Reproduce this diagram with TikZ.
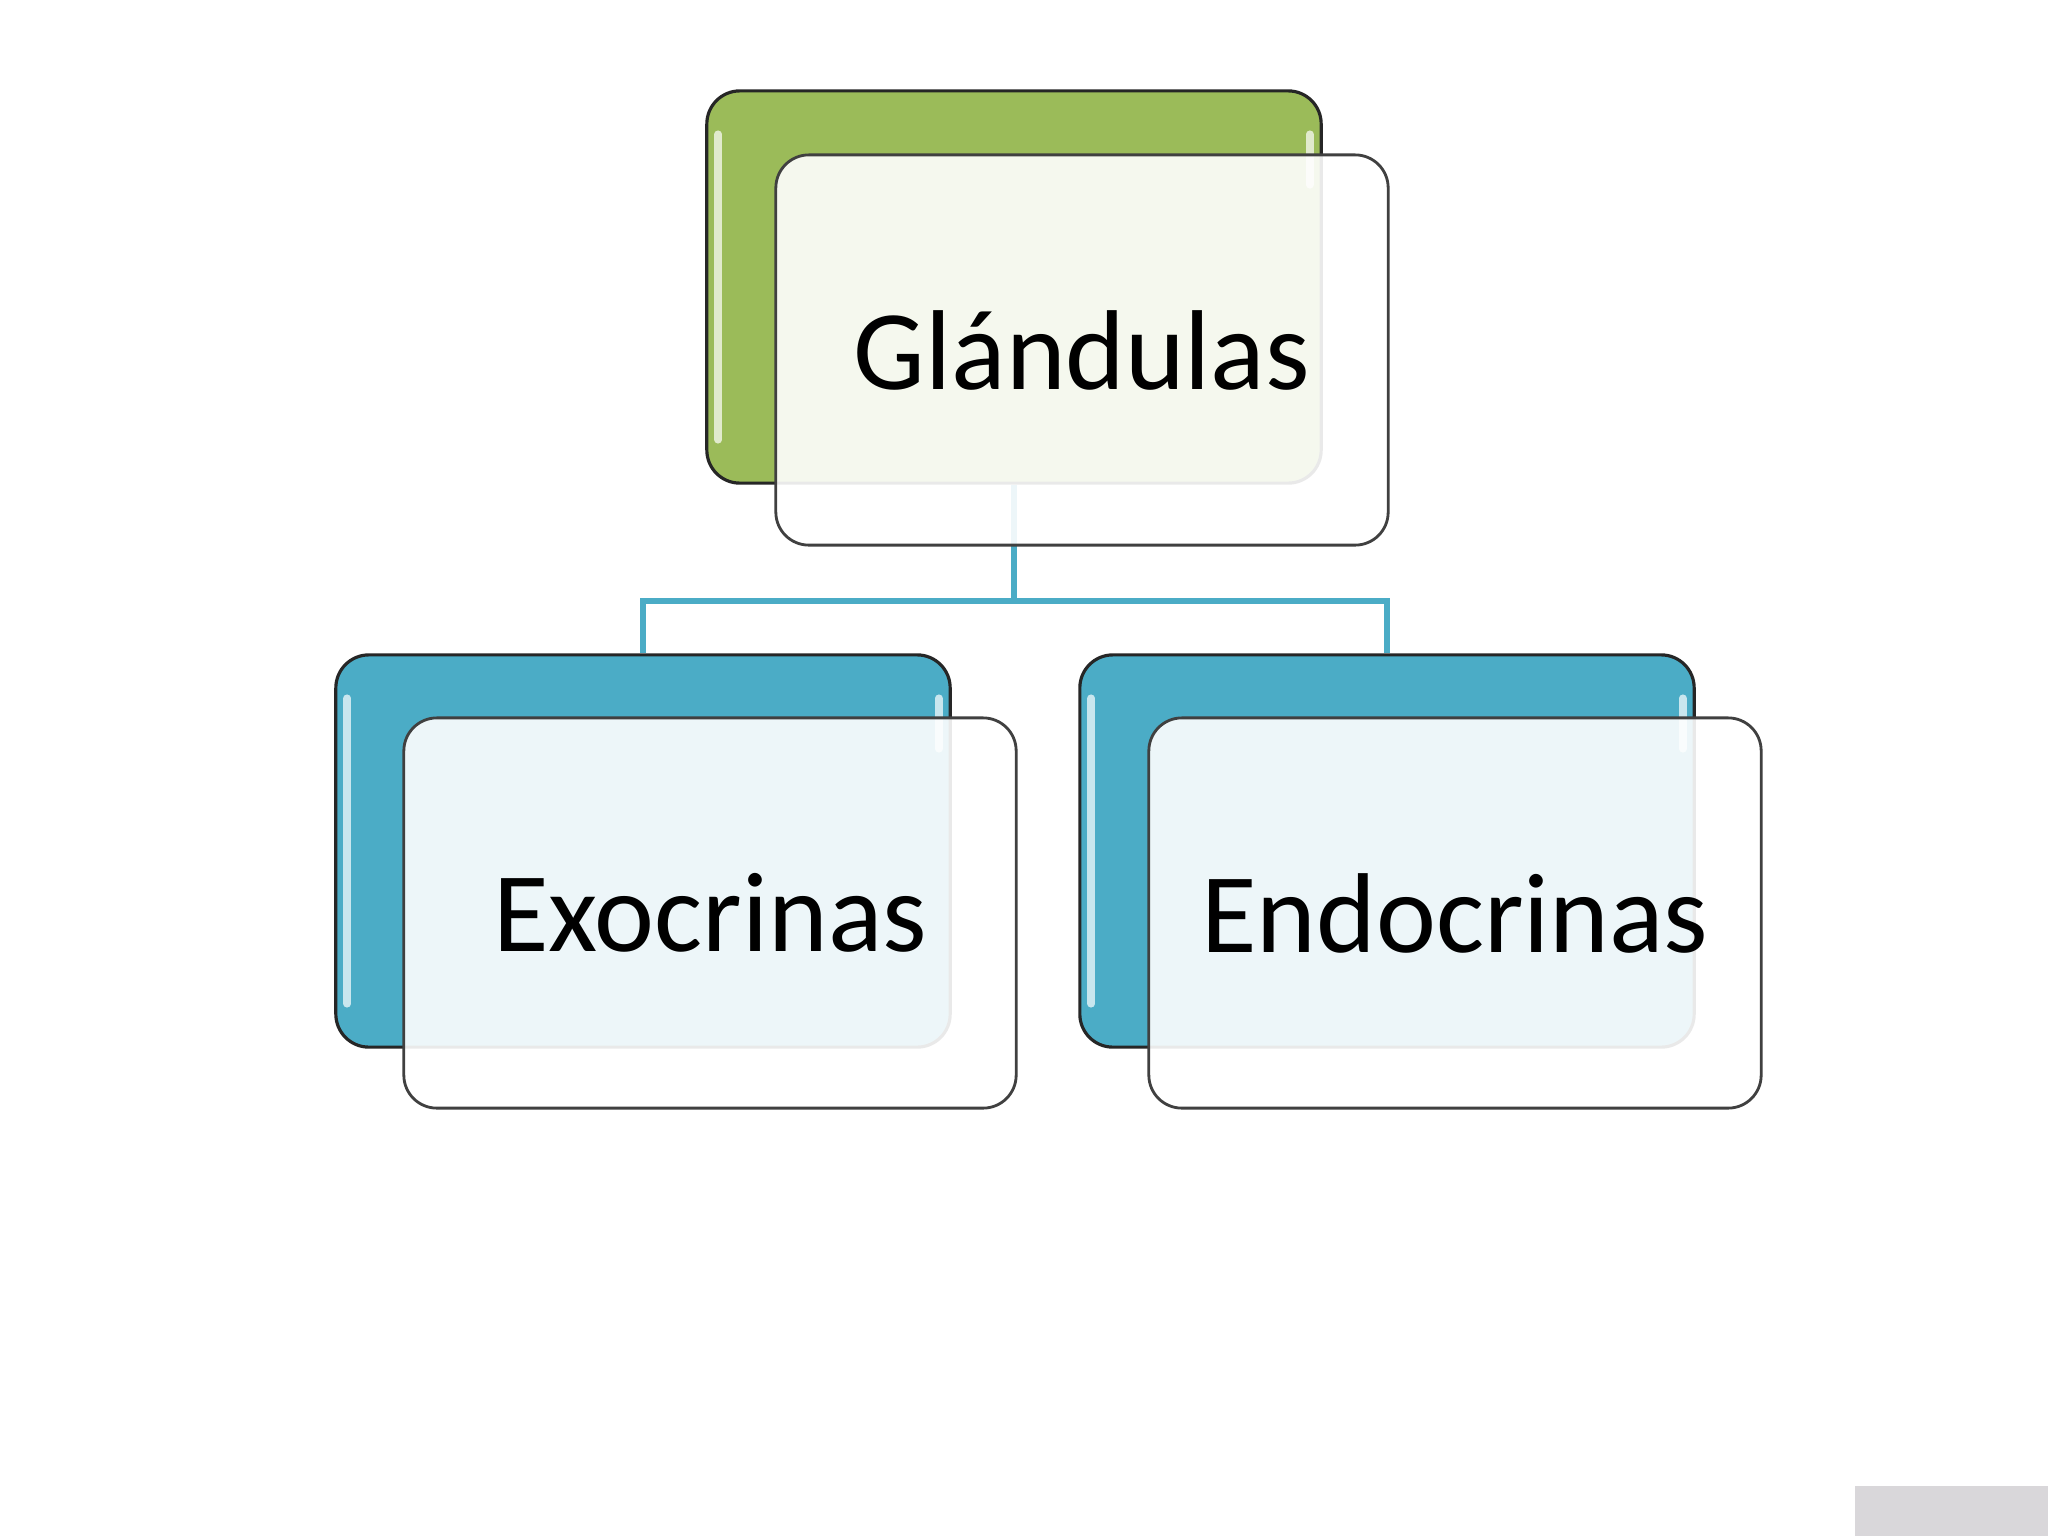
\documentclass[tikz,border=0pt]{standalone}
\usepackage{fontspec}
\setmainfont{Carlito}
\usetikzlibrary{positioning}
\definecolor{glgreen}{HTML}{9BBB59}
\definecolor{glblue}{HTML}{4BACC6}
\definecolor{linkblue}{HTML}{4BACC6}
\definecolor{cornergray}{HTML}{D9D7DA}
\tikzset{
  backbox/.style={
    rectangle, rounded corners=0.33cm,
    minimum width=6.14cm, minimum height=3.92cm,
    draw=black!85, line width=0.9pt, fill=#1
  },
  frontbox/.style={
    rectangle, rounded corners=0.33cm,
    minimum width=6.12cm, minimum height=3.9cm,
    text centered, font=\fontsize{32.3}{39}\selectfont,
    draw=black!75, line width=0.8pt,
    fill=white, fill opacity=0.9, text opacity=1, text=black
  },
  gloss/.style={draw=white, opacity=0.7, line width=2.2pt, line cap=round},
  linkline/.style={draw=linkblue, line width=1.6pt},
}

\begin{document}
\begin{tikzpicture}[x=0.01cm, y=-0.01cm]
      \useasboundingbox (0,0) rectangle (2048,1536);
      \fill[white] (0,0) rectangle (2048,1536);

      % back plates
      \node[backbox=glgreen](glback)   at (1014, 287) {};
      \node[backbox=glblue] (exoback)  at ( 643, 851) {};
      \node[backbox=glblue] (endoback) at (1387, 851) {};

      % glossy edges
      \foreach \b in {glback, exoback, endoback}{
        \draw[gloss] ([shift={(13,45)}]\b.north west) -- ([shift={(13,-45)}]\b.south west);
        \draw[gloss] ([shift={(-13,45)}]\b.north east) -- ([shift={(-13,-300)}]\b.south east);
      }

      % tree connectors
      \coordinate (split) at (1014, 601);
      \draw[linkline] (glback.south) -- (split) -| (exoback.north);
      \draw[linkline] (split) -| (endoback.north);

      % front cards
      \node[frontbox](glandulas) at (1082, 350) {Glándulas};
      \node[frontbox](exocrinas) at ( 710, 913) {Exocrinas};
      \node[frontbox](endocrinas) at (1455, 913) {Endocrinas};

      \fill[cornergray] (1855,1486) rectangle (2048,1536);
    \end{tikzpicture}
\end{document}
